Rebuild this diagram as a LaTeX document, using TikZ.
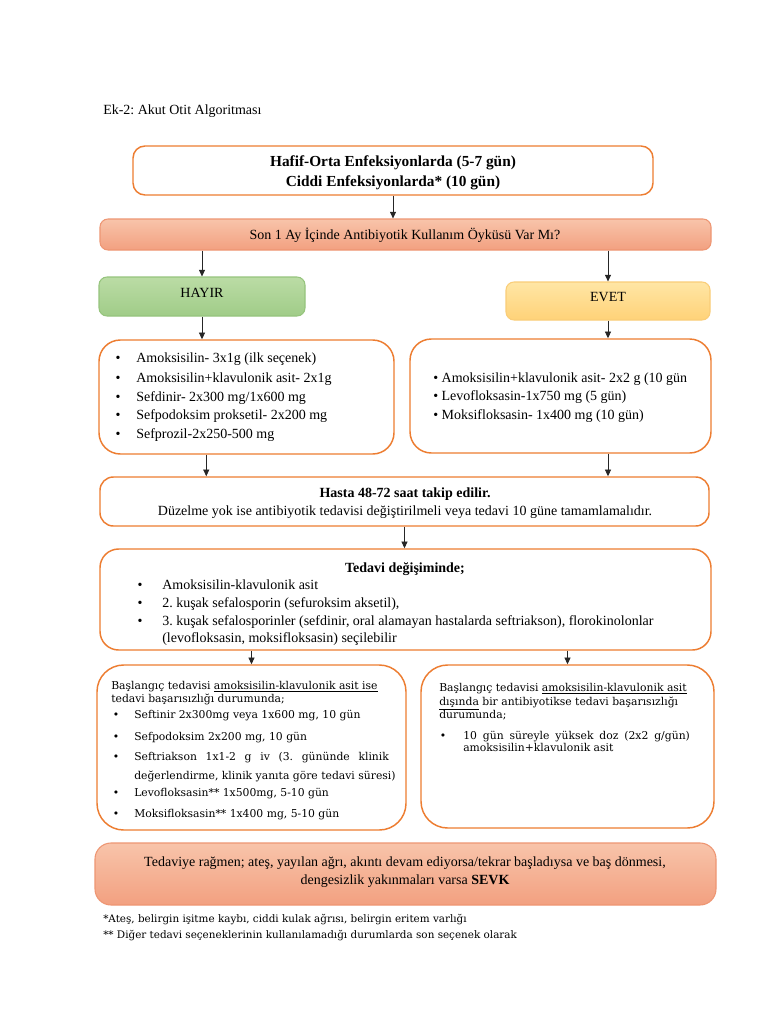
\documentclass[tikz,border=0pt]{standalone}
\usepackage{fontspec}
\setmainfont{Liberation Serif}
\newfontfamily\dvs{DejaVu Serif}
\usetikzlibrary{arrows.meta,fit,calc}
\definecolor{obrd}{RGB}{237,125,49}
\definecolor{salT}{RGB}{248,196,170}
\definecolor{salB}{RGB}{242,160,128}
\definecolor{salD}{RGB}{238,150,115}
\definecolor{grnT}{RGB}{187,220,165}
\definecolor{grnB}{RGB}{160,204,136}
\definecolor{grnD}{RGB}{150,196,125}
\definecolor{yelT}{RGB}{255,230,165}
\definecolor{yelB}{RGB}{255,210,120}
\definecolor{yelD}{RGB}{250,205,120}
\begin{document}
\begin{tikzpicture}[x=0.75pt,y=-0.75pt,
  txt/.style={inner sep=0pt,font=\frenchspacing\fontsize{10.5pt}{12pt}\selectfont},
  stxt/.style={inner sep=0pt,font=\frenchspacing\dvs\fontsize{8.1pt}{9.5pt}\selectfont},
  ftxt/.style={inner sep=0pt,font=\frenchspacing\dvs\fontsize{7.8pt}{9pt}\selectfont},
  obox/.style={draw=obrd,line width=1.1pt,fill=white,inner sep=0pt},
  salbox/.style={draw=salD,line width=0.8pt,top color=salT,bottom color=salB,inner sep=0pt,rounded corners=6pt},
  arr/.style={draw=black!85,line width=0.5pt,-{Triangle[length=5pt,width=4.5pt]}}]
\useasboundingbox[fill=white] (0,0) rectangle (768,1024);

% title
\node[txt,anchor=base west] (title) at (103,114) {Ek-2: Akut Otit Algoritması};

% boxes
\node[obox,rounded corners=9pt,fit={(133,146) (653,195)}] (top) {};
\node[salbox,fit={(100,219) (711,250)}] (son) {};
\node[draw=grnD,line width=0.8pt,top color=grnT,bottom color=grnB,inner sep=0pt,rounded corners=6pt,fit={(99,277) (305,316)}] (hayir) {};
\node[draw=yelD,line width=0.8pt,top color=yelT,bottom color=yelB,inner sep=0pt,rounded corners=6pt,fit={(506,282) (710,320)}] (evet) {};
\node[obox,rounded corners=16pt,fit={(99,340) (394,454)}] (listL) {};
\node[obox,rounded corners=16pt,fit={(410,339) (711,453)}] (listR) {};
\node[obox,rounded corners=10pt,fit={(100,477) (709,526)}] (hasta) {};
\node[obox,rounded corners=14pt,fit={(100,549) (711,650)}] (tedavi) {};
\node[obox,rounded corners=20pt,fit={(97,665) (406,830)}] (basL) {};
\node[obox,rounded corners=20pt,fit={(421,665) (714,828)}] (basR) {};
\node[salbox,rounded corners=12pt,fit={(95,843) (716,905)}] (sevk) {};

% arrows
\draw[arr] (top.south) -- (top.south |- son.north);
\draw[arr] (son.south -| hayir.north) -- (hayir.north);
\draw[arr] (son.south -| evet.north) -- (evet.north);
\draw[arr] (hayir.south) -- (hayir.south |- listL.north);
\draw[arr] (evet.south) -- (evet.south |- listR.north);
\coordinate (aL) at ([xshift=81pt]listL.south west);
\coordinate (aR) at (listR.south -| evet.south);
\draw[arr] (aL) -- (aL |- hasta.north);
\draw[arr] (aR) -- (aR |- hasta.north);
\draw[arr] (hasta.south) -- (hasta.south |- tedavi.north);
\draw[arr] (tedavi.south -| basL.north) -- (basL.north);
\draw[arr] (tedavi.south -| basR.north) -- (basR.north);

% top box text
\node[txt,font=\fontsize{11.5pt}{13pt}\selectfont\bfseries,anchor=base] (t1) at (393,166) {Hafif-Orta Enfeksiyonlarda (5-7 gün)};
\node[txt,font=\fontsize{11.5pt}{13pt}\selectfont\bfseries,anchor=base] (t2) at (393,186) {Ciddi Enfeksiyonlarda* (10 gün)};

\node[txt,anchor=base] (sontxt) at (405,239) {Son 1 Ay İçinde Antibiyotik Kullanım Öyküsü Var Mı?};
\node[txt,anchor=base] (hayirtxt) at (202,297) {HAYIR};
\node[txt,anchor=base] (evettxt) at (608,301) {EVET};

% left list
\foreach \yy/\tt [count=\i] in {362/{Amoksisilin- 3x1g (ilk seçenek)},382/{Amoksisilin+klavulonik asit- 2x1g},401/{Sefdinir- 2x300 mg/1x600 mg},419/{Sefpodoksim proksetil- 2x200 mg},438/{Sefprozil-2x250-500 mg}}{
  \node[txt,anchor=base] (lb\i) at (118,\yy) {•};
  \node[txt,anchor=base west] (lt\i) at (136,\yy) {\tt};
}

% right list
\node[txt,anchor=base west] (r1) at (433,382) {• Amoksisilin+klavulonik asit- 2x2 g (10 gün};
\node[txt,anchor=base west] (r2) at (433,400) {• Levofloksasin-1x750 mg (5 gün)};
\node[txt,anchor=base west] (r3) at (433,419) {• Moksifloksasin- 1x400 mg (10 gün)};

% hasta
\node[txt,font=\fontsize{10.5pt}{12pt}\selectfont\bfseries,anchor=base] (h1) at (405,497) {Hasta 48-72 saat takip edilir.};
\node[txt,anchor=base] (h2) at (405,515) {Düzelme yok ise antibiyotik tedavisi değiştirilmeli veya tedavi 10 güne tamamlamalıdır.};

% tedavi
\node[txt,font=\fontsize{10.5pt}{12pt}\selectfont\bfseries,anchor=base] (d0) at (405,572) {Tedavi değişiminde;};
\foreach \yy/\tt [count=\i] in {589/{Amoksisilin-klavulonik asit},607/{2. kuşak sefalosporin (sefuroksim aksetil),},625/{3. kuşak sefalosporinler (sefdinir, oral alamayan hastalarda seftriakson), florokinolonlar}}{
  \node[txt,anchor=base] (db\i) at (140,\yy) {•};
  \node[txt,anchor=base west] (dt\i) at (162,\yy) {\tt};
}
\node[txt,anchor=base west] (d4) at (162,642) {(levofloksasin, moksifloksasin) seçilebilir};

% bottom left
\node[stxt,anchor=base west] (bl1) at (111,689) {Başlangıç tedavisi \underline{amoksisilin-klavulonik asit ise}};
\node[stxt,anchor=base west] (bl2) at (111,702) {tedavi başarısızlığı durumunda;};
\foreach \yy/\tt [count=\i] in {718/{Seftinir 2x300mg veya 1x600 mg, 10 gün},740/{Sefpodoksim 2x200 mg, 10 gün},760/{\makebox[191pt][s]{Seftriakson 1x1-2 g iv (3. gününde klinik}},796/{Levofloksasin** 1x500mg, 5-10 gün},817/{Moksifloksasin** 1x400 mg, 5-10 gün}}{
  \node[stxt,anchor=base] (bb\i) at (116,\yy) {•};
  \node[stxt,anchor=base west] (bt\i) at (134,\yy) {\tt};
}
\node[stxt,anchor=base west] (bt6) at (134,779) {değerlendirme, klinik yanıta göre tedavi süresi)};

% bottom right
\node[stxt,anchor=base west] (br1) at (439,691) {Başlangıç tedavisi \underline{amoksisilin-klavulonik asit}};
\node[stxt,anchor=base west] (br2) at (439,705) {\underline{dışında} bir antibiyotikse tedavi başarısızlığı};
\node[stxt,anchor=base west] (br3) at (439,718) {durumunda;};
\node[stxt,anchor=base] (brb) at (443,739) {•};
\node[stxt,anchor=base west] (br4) at (463,739) {\makebox[170pt][s]{10 gün süreyle yüksek doz (2x2 g/gün)}};
\node[stxt,anchor=base west] (br5) at (463,751) {amoksisilin+klavulonik asit};

% sevk
\node[txt,anchor=base] (s1) at (405,866) {Tedaviye rağmen; ateş, yayılan ağrı, akıntı devam ediyorsa/tekrar başladıysa ve baş dönmesi,};
\node[txt,anchor=base] (s2) at (405,884) {dengesizlik yakınmaları varsa \textbf{SEVK}};

% footnotes
\node[ftxt,anchor=base west] (f1) at (103,922) {*Ateş, belirgin işitme kaybı, ciddi kulak ağrısı, belirgin eritem varlığı};
\node[ftxt,anchor=base west] (f2) at (103,938) {** Diğer tedavi seçeneklerinin kullanılamadığı durumlarda son seçenek olarak};
\end{tikzpicture}
\end{document}
